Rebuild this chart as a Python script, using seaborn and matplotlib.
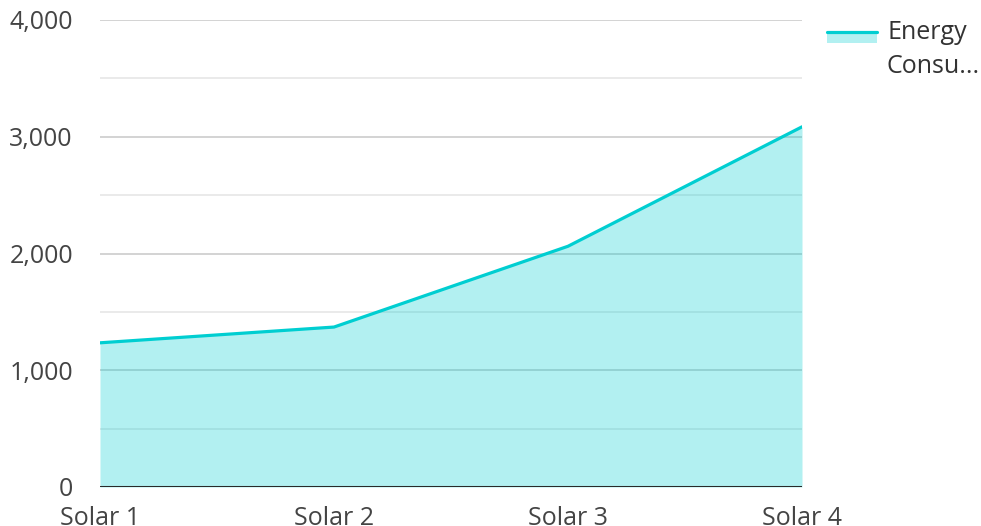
import matplotlib
matplotlib.use('Agg')
import matplotlib.pyplot as plt
import seaborn as sns
import pandas as pd
from matplotlib.patches import Rectangle
from matplotlib.lines import Line2D
from matplotlib.ticker import MultipleLocator, FuncFormatter

# chart data
categories = ['Solar 1', 'Solar 2', 'Solar 3', 'Solar 4']
energy = [1235, 1370, 2062, 3085]
series_name = 'Energy\nConsu...'

LINE = '#00CED1'

sns.set_theme(style='white')
plt.rcParams['font.family'] = ['Open Sans', 'DejaVu Sans']

df = pd.DataFrame({'pos': range(len(categories)), 'value': energy})

W, H = 981, 526
fig = plt.figure(figsize=(W / 100, H / 100), dpi=100)
ax = fig.add_axes([100 / W, 39 / H, 702 / W, 467 / H])
ax.set_axisbelow(True)

# area under the line (translucent so the grid shows through), then the line
ax.fill_between(df['pos'], df['value'], 0, color=LINE, alpha=0.3, linewidth=0, zorder=2)
sns.lineplot(data=df, x='pos', y='value', color=LINE, linewidth=2.3, ax=ax, zorder=3)

ax.set_xlim(0, len(categories) - 1)
ax.set_ylim(0, 4000)
ax.set_xticks(df['pos'])
ax.set_xticklabels(categories)
ax.yaxis.set_major_locator(MultipleLocator(1000))
ax.yaxis.set_minor_locator(MultipleLocator(500))
ax.yaxis.set_major_formatter(FuncFormatter(lambda v, p: f'{int(v):,}'))

# gridlines
ax.grid(axis='y', which='major', color='#c8c8c8', linewidth=1.1)
ax.grid(axis='y', which='minor', color='#e4e4e4', linewidth=1.1)
ax.grid(axis='x', visible=False)
ax.axhline(0, color='#2a2a2a', linewidth=2.2, zorder=4)

for s in ax.spines.values():
    s.set_visible(False)
ax.tick_params(axis='both', which='both', length=0, labelsize=18, colors='#444444')
ax.tick_params(axis='y', pad=19.5)
ax.tick_params(axis='x', pad=14)
ax.set_xlabel('')
ax.set_ylabel('')

# legend drawn by hand: light fill swatch with the series line on top
fig.add_artist(Rectangle((827 / W, (H - 43) / H), 50 / W, 11 / H,
                         facecolor=LINE, alpha=0.3, edgecolor='none',
                         transform=fig.transFigure))
fig.add_artist(Line2D([827 / W, 877 / W], [(H - 31.5) / H] * 2, color=LINE,
                      linewidth=2.3, transform=fig.transFigure))
fig.text(887 / W, (H - 73) / H, series_name, fontsize=18, color='#333333',
         ha='left', va='baseline', linespacing=1.45)

fig.savefig('out.png', dpi=100)
